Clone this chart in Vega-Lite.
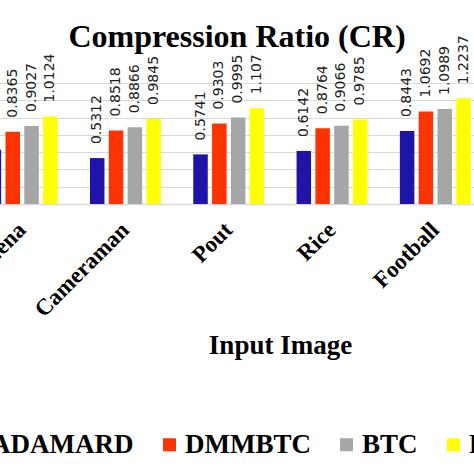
{
  "$schema": "https://vega.github.io/schema/vega-lite/v6.json",
  "autosize": {"type": "none"},
  "padding": {"top": 83, "left": 0, "right": 0, "bottom": 270},
  "width": 474,
  "height": 121,
  "title": {
    "text": "Compression Ratio (CR)",
    "font": "Liberation Serif",
    "fontSize": 32,
    "fontWeight": "bold",
    "color": "#000000",
    "anchor": "middle",
    "offset": -19
  },
  "data": {
    "values": [
      {"image": "Lena", "method": "HADAMARD", "value": 0.6268},
      {"image": "Lena", "method": "DMMBTC", "value": 0.8365},
      {"image": "Lena", "method": "BTC", "value": 0.9027},
      {"image": "Lena", "method": "Proposed", "value": 1.0124},
      {"image": "Cameraman", "method": "HADAMARD", "value": 0.5312},
      {"image": "Cameraman", "method": "DMMBTC", "value": 0.8518},
      {"image": "Cameraman", "method": "BTC", "value": 0.8866},
      {"image": "Cameraman", "method": "Proposed", "value": 0.9845},
      {"image": "Pout", "method": "HADAMARD", "value": 0.5741},
      {"image": "Pout", "method": "DMMBTC", "value": 0.9303},
      {"image": "Pout", "method": "BTC", "value": 0.9995},
      {"image": "Pout", "method": "Proposed", "value": 1.107},
      {"image": "Rice", "method": "HADAMARD", "value": 0.6142},
      {"image": "Rice", "method": "DMMBTC", "value": 0.8764},
      {"image": "Rice", "method": "BTC", "value": 0.9066},
      {"image": "Rice", "method": "Proposed", "value": 0.9785},
      {"image": "Football", "method": "HADAMARD", "value": 0.8443},
      {"image": "Football", "method": "DMMBTC", "value": 1.0692},
      {"image": "Football", "method": "BTC", "value": 1.0989},
      {"image": "Football", "method": "Proposed", "value": 1.2237}
    ]
  },
  "encoding": {
    "x": {
      "field": "image",
      "type": "nominal",
      "sort": ["Lena", "Cameraman", "Pout", "Rice", "Football"],
      "scale": {"range": [-29.5, 487], "paddingInner": 0.313, "paddingOuter": 0.1565},
      "axis": {
        "title": "Input Image",
        "titleFont": "Liberation Serif",
        "titleFontSize": 27,
        "titleFontWeight": "bold",
        "titleColor": "#000000",
        "titleX": 280,
        "titleY": 149,
        "titleAnchor": null,
        "titleBaseline": "alphabetic",
        "labelAngle": -45,
        "labelAlign": "right",
        "labelBaseline": "middle",
        "labelFont": "Liberation Serif",
        "labelFontSize": 23,
        "labelFontWeight": "bold",
        "labelColor": "#000000",
        "labelPadding": 22,
        "ticks": false,
        "domainColor": "#d9d9d9",
        "domainWidth": 1.5
      }
    },
    "xOffset": {
      "field": "method",
      "type": "nominal",
      "sort": ["HADAMARD", "DMMBTC", "BTC", "Proposed"],
      "scale": {"paddingInner": 0.23, "paddingOuter": 0}
    },
    "y": {
      "field": "value",
      "type": "quantitative",
      "scale": {"domain": [0, 1.4], "nice": false},
      "axis": {
        "title": null,
        "labels": false,
        "ticks": false,
        "domain": false,
        "grid": true,
        "gridColor": "#d9d9d9",
        "gridWidth": 1.2,
        "values": [0, 0.2, 0.4, 0.6, 0.8, 1.0, 1.2, 1.4]
      }
    }
  },
  "layer": [
    {
      "mark": {"type": "bar"},
      "encoding": {
        "color": {
          "field": "method",
          "type": "nominal",
          "sort": ["HADAMARD", "DMMBTC", "BTC", "Proposed"],
          "scale": {
            "domain": ["HADAMARD", "DMMBTC", "BTC", "Proposed"],
            "range": ["#1f14a8", "#ff3300", "#a6a6a6", "#ffff00"]
          },
          "legend": {
            "title": null,
            "orient": "none",
            "legendX": -59,
            "legendY": 348,
            "direction": "horizontal",
            "symbolType": "square",
            "symbolSize": 169,
            "symbolStrokeWidth": 0,
            "labelFont": "Liberation Serif",
            "labelFontSize": 27,
            "labelFontWeight": "bold",
            "labelColor": "#000000",
            "labelOffset": 2,
            "columnPadding": 22,
            "labelLimit": 400
          }
        }
      }
    },
    {
      "mark": {
        "type": "text",
        "angle": -90,
        "align": "left",
        "baseline": "middle",
        "dx": 14,
        "font": "DejaVu Sans",
        "fontSize": 14,
        "color": "#222222"
      },
      "encoding": {
        "text": {"field": "value", "type": "nominal"}
      }
    }
  ],
  "config": {
    "view": {"stroke": null}
  }
}
